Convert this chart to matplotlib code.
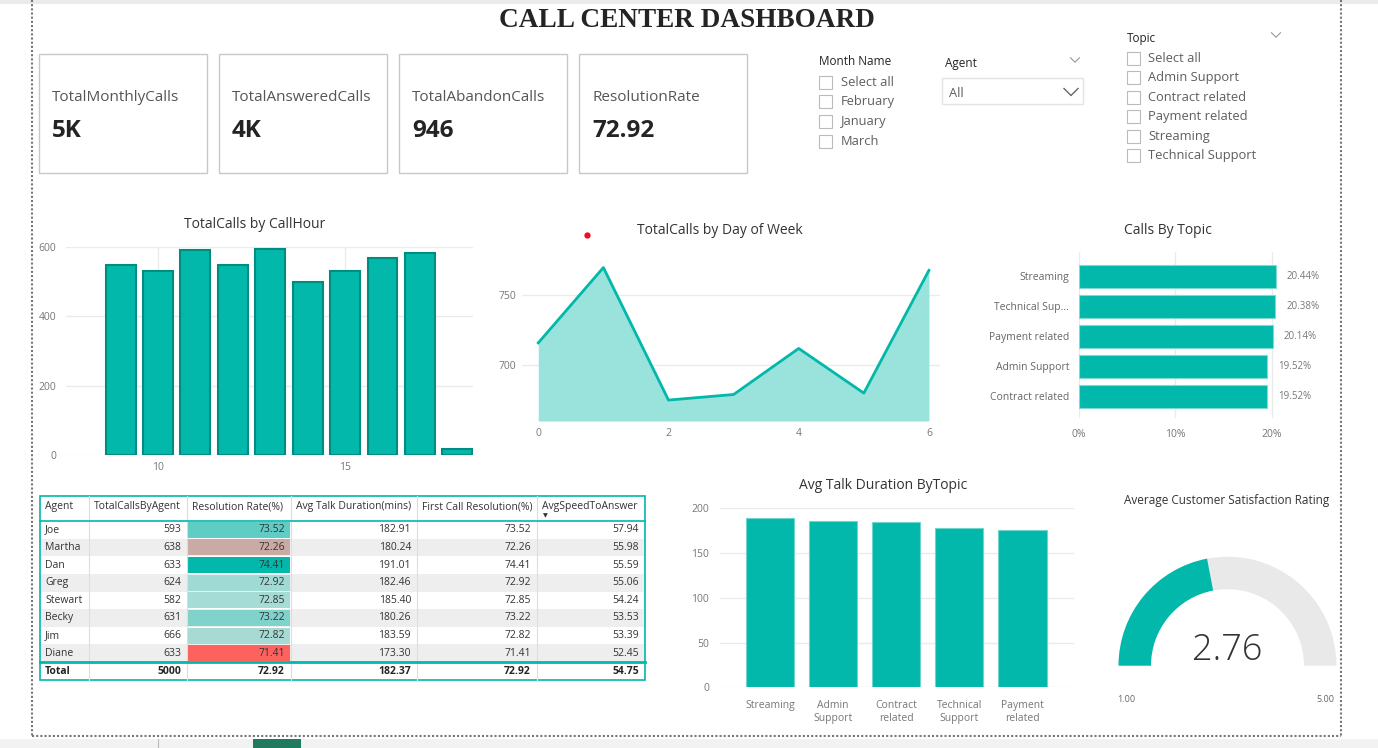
import numpy as np
import matplotlib
matplotlib.use("Agg")
import matplotlib.pyplot as plt
from matplotlib.patches import Rectangle, Wedge
from matplotlib.colors import LinearSegmentedColormap, TwoSlopeNorm

plt.rcParams['font.family'] = ['Open Sans', 'DejaVu Sans']

# ---- data ----
card_labels = ['TotalMonthlyCalls', 'TotalAnsweredCalls', 'TotalAbandonCalls', 'ResolutionRate']
card_values = ['5K', '4K', '946', '72.92']

month_options = ['Select all', 'February', 'January', 'March']
topic_options = ['Select all', 'Admin Support', 'Contract related', 'Payment related',
                 'Streaming', 'Technical Support']

call_hours = [9, 10, 11, 12, 13, 14, 15, 16, 17, 18]
calls_by_hour = [547, 530, 590, 547, 594, 500, 531, 567, 583, 16]

week_days = [0, 1, 2, 3, 4, 5, 6]
calls_by_day = [716, 770, 675, 679, 712, 680, 768]

topics = ['Streaming', 'Technical Support', 'Payment related', 'Admin Support', 'Contract related']
topic_share = [20.44, 20.38, 20.14, 19.52, 19.52]

table_headers = ['Agent', 'TotalCallsByAgent', 'Resolution Rate(%)', 'Avg Talk Duration(mins)',
                 'First Call Resolution(%)', 'AvgSpeedToAnswer']
agents = ['Joe', 'Martha', 'Dan', 'Greg', 'Stewart', 'Becky', 'Jim', 'Diane']
calls_by_agent = [593, 638, 633, 624, 582, 631, 666, 633]
resolution_rate = [73.52, 72.26, 74.41, 72.92, 72.85, 73.22, 72.82, 71.41]
avg_talk_mins = [182.91, 180.24, 191.01, 182.46, 185.40, 180.26, 183.59, 173.30]
first_call_res = [73.52, 72.26, 74.41, 72.92, 72.85, 73.22, 72.82, 71.41]
avg_speed = [57.94, 55.98, 55.59, 55.06, 54.24, 53.53, 53.39, 52.45]
total_row = ['Total', '5000', '72.92', '182.37', '72.92', '54.75']

talk_topics = ['Streaming', 'Admin Support', 'Contract related', 'Technical Support', 'Payment related']
avg_talk_by_topic = [188.8, 185.8, 184.3, 178.0, 175.4]

csat = 2.76
csat_min, csat_max = 1.0, 5.0

TEAL = '#01B8AA'
W, H = 1378, 748
fig = plt.figure(figsize=(W / 100, H / 100), dpi=100)


def px_axes(x0, y0, x1, y1):
    ax = fig.add_axes([x0 / W, 1 - y1 / H, (x1 - x0) / W, (y1 - y0) / H])
    ax.set_facecolor('none')
    return ax


def style(ax):
    for s in ax.spines.values():
        s.set_visible(False)
    ax.tick_params(length=0, colors='#777777', labelsize=7.5)
    ax.set_axisbelow(True)


def chevron(ax, cx, cy, w, h, color='#888888', lw=0.8):
    ax.plot([cx - w / 2, cx, cx + w / 2], [cy - h / 2, cy + h / 2, cy - h / 2], color=color, lw=lw)


# background layer in pixel coordinates
bg = px_axes(0, 0, W, H)
bg.set_xlim(0, W)
bg.set_ylim(H, 0)
bg.axis('off')

bg.add_patch(Rectangle((0, 0), W, 4, fc='#EBEBEB', ec='none'))
bg.add_patch(Rectangle((0, 739), W, 9, fc='#F2F2F2', ec='none'))
bg.add_patch(Rectangle((253, 739), 48, 9, fc='#217A5E', ec='none'))
bg.plot([158, 158], [739, 748], color='#BBBBBB', lw=0.8)
dots = dict(color='#777777', lw=1.5, ls=(0, (1, 1)))
bg.plot([32, 32], [0, 736], **dots)
bg.plot([32, 1341], [736, 736], **dots)
bg.plot([1341, 1341], [0, 736], **dots)

bg.text(687, 20, 'CALL CENTER DASHBOARD', ha='center', va='center', fontsize=19.6,
        fontweight='bold', family='Liberation Serif', color='#252423')

# KPI cards
for i, (lab, val) in enumerate(zip(card_labels, card_values)):
    x0 = 39 + i * 180
    bg.add_patch(Rectangle((x0, 54), 168, 119, fill=False, ec='#C8C8C8', lw=1))
    bg.text(x0 + 13, 97, lab, ha='left', va='center', fontsize=11, color='#555555')
    bg.text(x0 + 13, 131, val, ha='left', va='center', fontsize=17.5, fontweight='bold', color='#252423')

# slicers
bg.text(819, 61, 'Month Name', ha='left', va='center', fontsize=8.5, color='#252423')
for i, m in enumerate(month_options):
    y = 82 + i * 19.7
    bg.add_patch(Rectangle((819, y - 6.5), 13, 13, fill=False, ec='#BBBBBB', lw=0.8))
    bg.text(841, y, m, ha='left', va='center', fontsize=9.3, color='#605E5C')

bg.text(945, 63, 'Agent', ha='left', va='center', fontsize=8.5, color='#252423')
chevron(bg, 1075, 60, 9, 4.5, '#999999')
bg.add_patch(Rectangle((942, 78), 141, 26, fill=False, ec='#E3E3E3', lw=1))
bg.text(949, 93, 'All', ha='left', va='center', fontsize=9.3, color='#605E5C')
chevron(bg, 1071, 92, 14, 7, '#666666', 1.0)

bg.text(1127, 38, 'Topic', ha='left', va='center', fontsize=8.5, color='#252423')
chevron(bg, 1276, 35, 9, 4.5, '#999999')
for i, t in enumerate(topic_options):
    y = 58 + i * 19.5
    bg.add_patch(Rectangle((1127, y - 6.5), 13, 13, fill=False, ec='#BBBBBB', lw=0.8))
    bg.text(1148, y, t, ha='left', va='center', fontsize=9.3, color='#605E5C')

# stray red dot in the screenshot
bg.plot(587, 235, 'o', color='#E81123', ms=3.5)

# ---- TotalCalls by CallHour ----
bg.text(255, 224, 'TotalCalls by CallHour', ha='center', va='center', fontsize=10, color='#333333')
ax1 = px_axes(66, 247, 473, 455)
style(ax1)
ax1.bar(call_hours, calls_by_hour, width=0.8, color=TEAL, edgecolor='#008C80', lw=1.5)
ax1.set_xlim(7.54, 18.42)
ax1.set_ylim(0, 600)
ax1.set_yticks([0, 200, 400, 600])
ax1.set_xticks([10, 15])
ax1.grid(True, color='#EBEBEB', lw=1)
ax1.tick_params(axis='y', pad=7)
ax1.tick_params(axis='x', pad=5)

# ---- TotalCalls by Day of Week ----
bg.text(720, 230, 'TotalCalls by Day of Week', ha='center', va='center', fontsize=10, color='#333333')
ax2 = px_axes(522, 255, 940, 421)
style(ax2)
ax2.fill_between(week_days, calls_by_day, 660, color='#99E3DC', lw=0)
ax2.plot(week_days, calls_by_day, color=TEAL, lw=2)
ax2.set_xlim(-0.25, 6.17)
ax2.set_ylim(660, 779)
ax2.set_yticks([700, 750])
ax2.set_xticks([0, 2, 4, 6])
ax2.grid(axis='y', color='#EBEBEB', lw=1)
ax2.tick_params(axis='y', pad=4)
ax2.tick_params(axis='x', pad=5)

# ---- Calls By Topic ----
bg.text(1168, 230, 'Calls By Topic', ha='center', va='center', fontsize=10, color='#333333')
ax3 = px_axes(1079, 252, 1320, 418)
style(ax3)
ypos = np.arange(len(topics))
ax3.barh(ypos, topic_share, height=0.77, color=TEAL, edgecolor='#80DAD2', lw=0.8)
for i, v in enumerate(topic_share):
    ax3.text(v + 1.1, i, f'{v:.2f}%', ha='left', va='center', fontsize=7, color='#777777')
ax3.set_ylim(4.73, -0.81)
ax3.set_xlim(0, 25.0)
ax3.set_yticks(ypos)
ax3.set_yticklabels([t if len(t) <= 16 else t[:13] + '...' for t in topics], color='#666666')
ax3.set_xticks([0, 10, 20])
ax3.set_xticklabels([f'{v}%' for v in [0, 10, 20]])
ax3.grid(axis='x', color='#EBEBEB', lw=1)
ax3.tick_params(axis='y', pad=7)
ax3.tick_params(axis='x', pad=8)

# ---- agent table ----
tbl = px_axes(36, 492, 650, 684)
tbl.set_xlim(36, 650)
tbl.set_ylim(684, 492)
tbl.axis('off')
col_edges = [40, 89, 187, 291, 417, 537, 645]
head_top, head_bot, tot_top, tot_bot = 496, 521, 662, 680
row_h = (tot_top - head_bot) / len(agents)

cmap = LinearSegmentedColormap.from_list('rr', ['#FD625E', '#A6DCD6', TEAL])
norm = TwoSlopeNorm(vmin=min(resolution_rate), vcenter=72.85, vmax=max(resolution_rate))

rows = list(zip(agents, calls_by_agent, resolution_rate, avg_talk_mins, first_call_res, avg_speed))
for i, r in enumerate(rows):
    y0 = head_bot + i * row_h
    yc = y0 + row_h / 2
    if i % 2 == 1:
        tbl.add_patch(Rectangle((col_edges[0], y0), col_edges[-1] - col_edges[0], row_h,
                                fc='#EEEEEE', ec='none'))
    tbl.add_patch(Rectangle((col_edges[2] + 1, y0 + 0.8), col_edges[3] - col_edges[2] - 2, row_h - 1.6,
                            fc=cmap(norm(r[2])), ec='none'))
    tbl.text(col_edges[0] + 5, yc, r[0], ha='left', va='center', fontsize=7.5, color='#333333')
    cells = [str(r[1])] + [f'{v:.2f}' for v in r[2:]]
    for j, c in enumerate(cells):
        tbl.text(col_edges[j + 2] - 6, yc, c, ha='right', va='center', fontsize=7.5, color='#333333')

for j, h in enumerate(table_headers):
    tbl.text(col_edges[j] + 5, 507, h, ha='left', va='center', fontsize=7.5, color='#333333')
tbl.text(col_edges[5] + 8, 516, '\u25BC', ha='center', va='center', fontsize=4.5,
         family='DejaVu Sans', color='#333333')

yc = (tot_top + tot_bot) / 2
tbl.text(col_edges[0] + 5, yc, total_row[0], ha='left', va='center', fontsize=7.5,
         fontweight='bold', color='#252423')
for j, c in enumerate(total_row[1:]):
    tbl.text(col_edges[j + 2] - 6, yc, c, ha='right', va='center', fontsize=7.5,
             fontweight='bold', color='#252423')

for x in col_edges[1:-1]:
    tbl.plot([x, x], [head_top, tot_bot], color='#DDDDDD', lw=0.8)
tbl.plot([col_edges[0], col_edges[-1]], [head_bot, head_bot], color=TEAL, lw=1.2)
tbl.plot([col_edges[0], col_edges[-1]], [tot_top, tot_top], color=TEAL, lw=2)
tbl.add_patch(Rectangle((col_edges[0], head_top), col_edges[-1] - col_edges[0], tot_bot - head_top,
                        fill=False, ec=TEAL, lw=1.2))

# ---- Avg Talk Duration ByTopic ----
bg.text(883, 485, 'Avg Talk Duration ByTopic', ha='center', va='center', fontsize=10, color='#333333')
ax5 = px_axes(720, 508.3, 1074, 687.3)
style(ax5)
xpos = np.arange(len(talk_topics))
ax5.bar(xpos, avg_talk_by_topic, width=0.77, color=TEAL, edgecolor='#70D5CC', lw=0.8)
ax5.set_xlim(-0.79, 4.82)
ax5.set_ylim(0, 200)
ax5.set_yticks([0, 50, 100, 150, 200])
ax5.set_xticks(xpos)
ax5.set_xticklabels([t.replace(' ', '\n') for t in talk_topics], linespacing=1.3)
ax5.grid(axis='y', color='#EBEBEB', lw=1)
ax5.tick_params(axis='y', pad=8)
ax5.tick_params(axis='x', pad=9)

# ---- gauge ----
bg.text(1227, 500, 'Average Customer Satisfaction Rating', ha='center', va='center',
        fontsize=8.5, color='#333333')
ax6 = px_axes(1100, 540, 1360, 712)
ax6.set_xlim(-127.5, 132.5)
ax6.set_ylim(-46.3, 125.7)
ax6.axis('off')
ang = 180 * (1 - (csat - csat_min) / (csat_max - csat_min))
ax6.add_patch(Wedge((0, 0), 109, 0, ang, width=32.5, fc='#E9E9E9', ec='none'))
ax6.add_patch(Wedge((0, 0), 109, ang, 180, width=32.5, fc=TEAL, ec='none'))
ax6.text(0, 15.7, f'{csat:.2f}', ha='center', va='center', fontsize=26, fontweight='light',
         color='#333333')
ax6.text(-100.8, -33.3, f'{csat_min:.2f}', ha='center', va='center', fontsize=6.5, color='#666666')
ax6.text(97.5, -33.3, f'{csat_max:.2f}', ha='center', va='center', fontsize=6.5, color='#666666')

fig.savefig('out.png', dpi=100)
